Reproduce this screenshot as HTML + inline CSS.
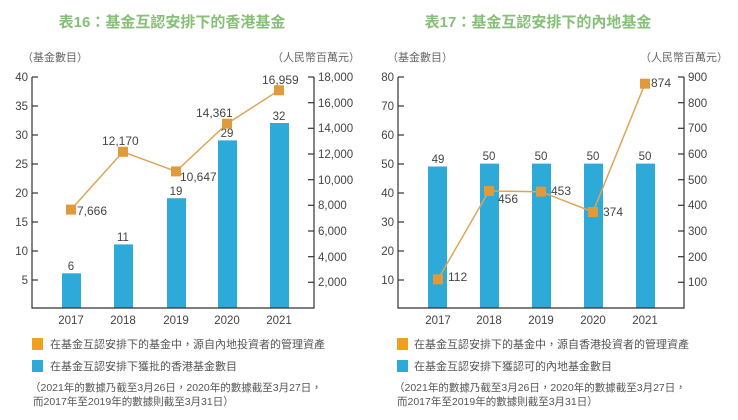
<!DOCTYPE html>
<html><head><meta charset="utf-8"><style>
html,body{margin:0;padding:0;background:#fff;}
svg{display:block;font-family:"Liberation Sans","Noto Sans CJK TC",sans-serif;}
</style></head><body>
<svg width="738" height="420" viewBox="0 0 738 420" xmlns="http://www.w3.org/2000/svg">
<text x="172" y="27" text-anchor="middle" font-size="15" fill="#86bf78" font-weight="bold">表16：基金互認安排下的香港基金</text>
<text x="538" y="27" text-anchor="middle" font-size="15" fill="#86bf78" font-weight="bold">表17：基金互認安排下的內地基金</text>

<g font-size="12" fill="#444">
<text x="22" y="61" font-size="11" fill="#666">（基金數目）</text>
<text x="360" y="61" font-size="11" fill="#666" text-anchor="end">（人民幣百萬元）</text>
<g fill="#2eaad8">
<rect x="62" y="273.3" width="19" height="34.7"/>
<rect x="114" y="244.4" width="19" height="63.6"/>
<rect x="167" y="198.2" width="19" height="109.8"/>
<rect x="218" y="140.4" width="19" height="167.6"/>
<rect x="270" y="123" width="19" height="185"/>
</g>
<path d="M32,77 V308 H314 V77" fill="none" stroke="#333" stroke-width="1.2"/>
<g stroke="#333" stroke-width="1.2">
<line x1="32" y1="77" x2="38" y2="77"/><line x1="32" y1="106" x2="38" y2="106"/><line x1="32" y1="135" x2="38" y2="135"/><line x1="32" y1="164" x2="38" y2="164"/><line x1="32" y1="193" x2="38" y2="193"/><line x1="32" y1="222" x2="38" y2="222"/><line x1="32" y1="251" x2="38" y2="251"/><line x1="32" y1="280" x2="38" y2="280"/>
<line x1="308" y1="77" x2="314" y2="77"/><line x1="308" y1="102.7" x2="314" y2="102.7"/><line x1="308" y1="128.3" x2="314" y2="128.3"/><line x1="308" y1="154" x2="314" y2="154"/><line x1="308" y1="179.7" x2="314" y2="179.7"/><line x1="308" y1="205.3" x2="314" y2="205.3"/><line x1="308" y1="231" x2="314" y2="231"/><line x1="308" y1="256.7" x2="314" y2="256.7"/><line x1="308" y1="282.3" x2="314" y2="282.3"/>
</g>
<g text-anchor="end" font-size="11.5">
<text x="28" y="81">40</text><text x="28" y="110">35</text><text x="28" y="139">30</text><text x="28" y="168">25</text><text x="28" y="197">20</text><text x="28" y="226">15</text><text x="28" y="255">10</text><text x="28" y="284">5</text>
</g>
<g font-size="11.5">
<text x="318" y="81">18,000</text><text x="318" y="107">16,000</text><text x="318" y="132">14,000</text><text x="318" y="158">12,000</text><text x="318" y="184">10,000</text><text x="318" y="209">8,000</text><text x="318" y="235">6,000</text><text x="318" y="261">4,000</text><text x="318" y="286">2,000</text>
</g>
<g text-anchor="middle" font-size="11.5">
<text x="71" y="324">2017</text><text x="123" y="324">2018</text><text x="176" y="324">2019</text><text x="227" y="324">2020</text><text x="279" y="324">2021</text>
<text x="71" y="270">6</text><text x="123" y="241">11</text><text x="176" y="195">19</text><text x="227" y="137">29</text><text x="279" y="120">32</text>
</g>
<polyline points="71,209.6 123,151.8 176,171.4 227,123.7 279,90.3" fill="none" stroke="#e0a458" stroke-width="1.5"/>
<g fill="#e09a3c">
<rect x="66" y="204.6" width="10" height="10"/><rect x="118" y="146.8" width="10" height="10"/><rect x="171" y="166.4" width="10" height="10"/><rect x="222" y="118.7" width="10" height="10"/><rect x="274" y="85.3" width="10" height="10"/>
</g>
<text x="77" y="215">7,666</text>
<text x="102" y="145">12,170</text>
<text x="180" y="181">10,647</text>
<text x="196" y="117">14,361</text>
<text x="262" y="84">16,959</text>
<rect x="32" y="338" width="11" height="12" fill="#f0a01c"/>
<rect x="32" y="360" width="11" height="12" fill="#2eaad8"/>
<text x="50" y="348" font-size="11" fill="#555">在基金互認安排下的基金中，源自內地投資者的管理資產</text>
<text x="50" y="370" font-size="11" fill="#555">在基金互認安排下獲批的香港基金數目</text>
<text x="30" y="391" font-size="10.5" fill="#555">（2021年的數據乃截至3月26日，2020年的數據截至3月27日，</text>
<text x="33" y="405" font-size="10.5" fill="#555">而2017年至2019年的數據則截至3月31日）</text>
</g>

<g font-size="12" fill="#444">
<text x="387" y="61" font-size="11" fill="#666">（基金數目）</text>
<text x="728" y="61" font-size="11" fill="#666" text-anchor="end">（人民幣百萬元）</text>
<g fill="#2eaad8">
<rect x="428" y="166.5" width="19" height="141.5"/>
<rect x="480" y="163.6" width="19" height="144.4"/>
<rect x="532" y="163.6" width="19" height="144.4"/>
<rect x="584" y="163.6" width="19" height="144.4"/>
<rect x="636" y="163.6" width="19" height="144.4"/>
</g>
<path d="M398,77 V308 H684 V77" fill="none" stroke="#333" stroke-width="1.2"/>
<g stroke="#333" stroke-width="1.2">
<line x1="398" y1="77" x2="404" y2="77"/><line x1="398" y1="106" x2="404" y2="106"/><line x1="398" y1="135" x2="404" y2="135"/><line x1="398" y1="164" x2="404" y2="164"/><line x1="398" y1="193" x2="404" y2="193"/><line x1="398" y1="222" x2="404" y2="222"/><line x1="398" y1="251" x2="404" y2="251"/><line x1="398" y1="280" x2="404" y2="280"/>
<line x1="678" y1="77" x2="684" y2="77"/><line x1="678" y1="102.7" x2="684" y2="102.7"/><line x1="678" y1="128.3" x2="684" y2="128.3"/><line x1="678" y1="154" x2="684" y2="154"/><line x1="678" y1="179.7" x2="684" y2="179.7"/><line x1="678" y1="205.3" x2="684" y2="205.3"/><line x1="678" y1="231" x2="684" y2="231"/><line x1="678" y1="256.7" x2="684" y2="256.7"/><line x1="678" y1="282.3" x2="684" y2="282.3"/>
</g>
<g text-anchor="end" font-size="11.5">
<text x="394" y="81">80</text><text x="394" y="110">70</text><text x="394" y="139">60</text><text x="394" y="168">50</text><text x="394" y="197">40</text><text x="394" y="226">30</text><text x="394" y="255">20</text><text x="394" y="284">10</text>
</g>
<g font-size="11.5">
<text x="688" y="81">900</text><text x="688" y="107">800</text><text x="688" y="132">700</text><text x="688" y="158">600</text><text x="688" y="184">500</text><text x="688" y="209">400</text><text x="688" y="235">300</text><text x="688" y="261">200</text><text x="688" y="286">100</text>
</g>
<g text-anchor="middle" font-size="11.5">
<text x="438" y="324">2017</text><text x="489" y="324">2018</text><text x="541" y="324">2019</text><text x="593" y="324">2020</text><text x="645" y="324">2021</text>
<text x="438" y="163">49</text><text x="489" y="160">50</text><text x="541" y="160">50</text><text x="593" y="160">50</text><text x="645" y="160">50</text>
</g>
<polyline points="438,279.3 489,191 541,191.7 593,212 645,83.7" fill="none" stroke="#e0a458" stroke-width="1.5"/>
<g fill="#e09a3c">
<rect x="433" y="274.3" width="10" height="10"/><rect x="484" y="186" width="10" height="10"/><rect x="536" y="186.7" width="10" height="10"/><rect x="588" y="207" width="10" height="10"/><rect x="640" y="78.7" width="10" height="10"/>
</g>
<text x="448" y="281">112</text>
<text x="498" y="203">456</text>
<text x="551" y="195">453</text>
<text x="603" y="216">374</text>
<text x="651" y="87">874</text>
<rect x="397" y="338" width="11" height="12" fill="#f0a01c"/>
<rect x="397" y="360" width="11" height="12" fill="#2eaad8"/>
<text x="414" y="348" font-size="11" fill="#555">在基金互認安排下的基金中，源自香港投資者的管理資產</text>
<text x="414" y="370" font-size="11" fill="#555">在基金互認安排下獲認可的內地基金數目</text>
<text x="394" y="391" font-size="10.5" fill="#555">（2021年的數據乃截至3月26日，2020年的數據截至3月27日，</text>
<text x="397" y="405" font-size="10.5" fill="#555">而2017年至2019年的數據則截至3月31日）</text>
</g>
</svg>
</body></html>
